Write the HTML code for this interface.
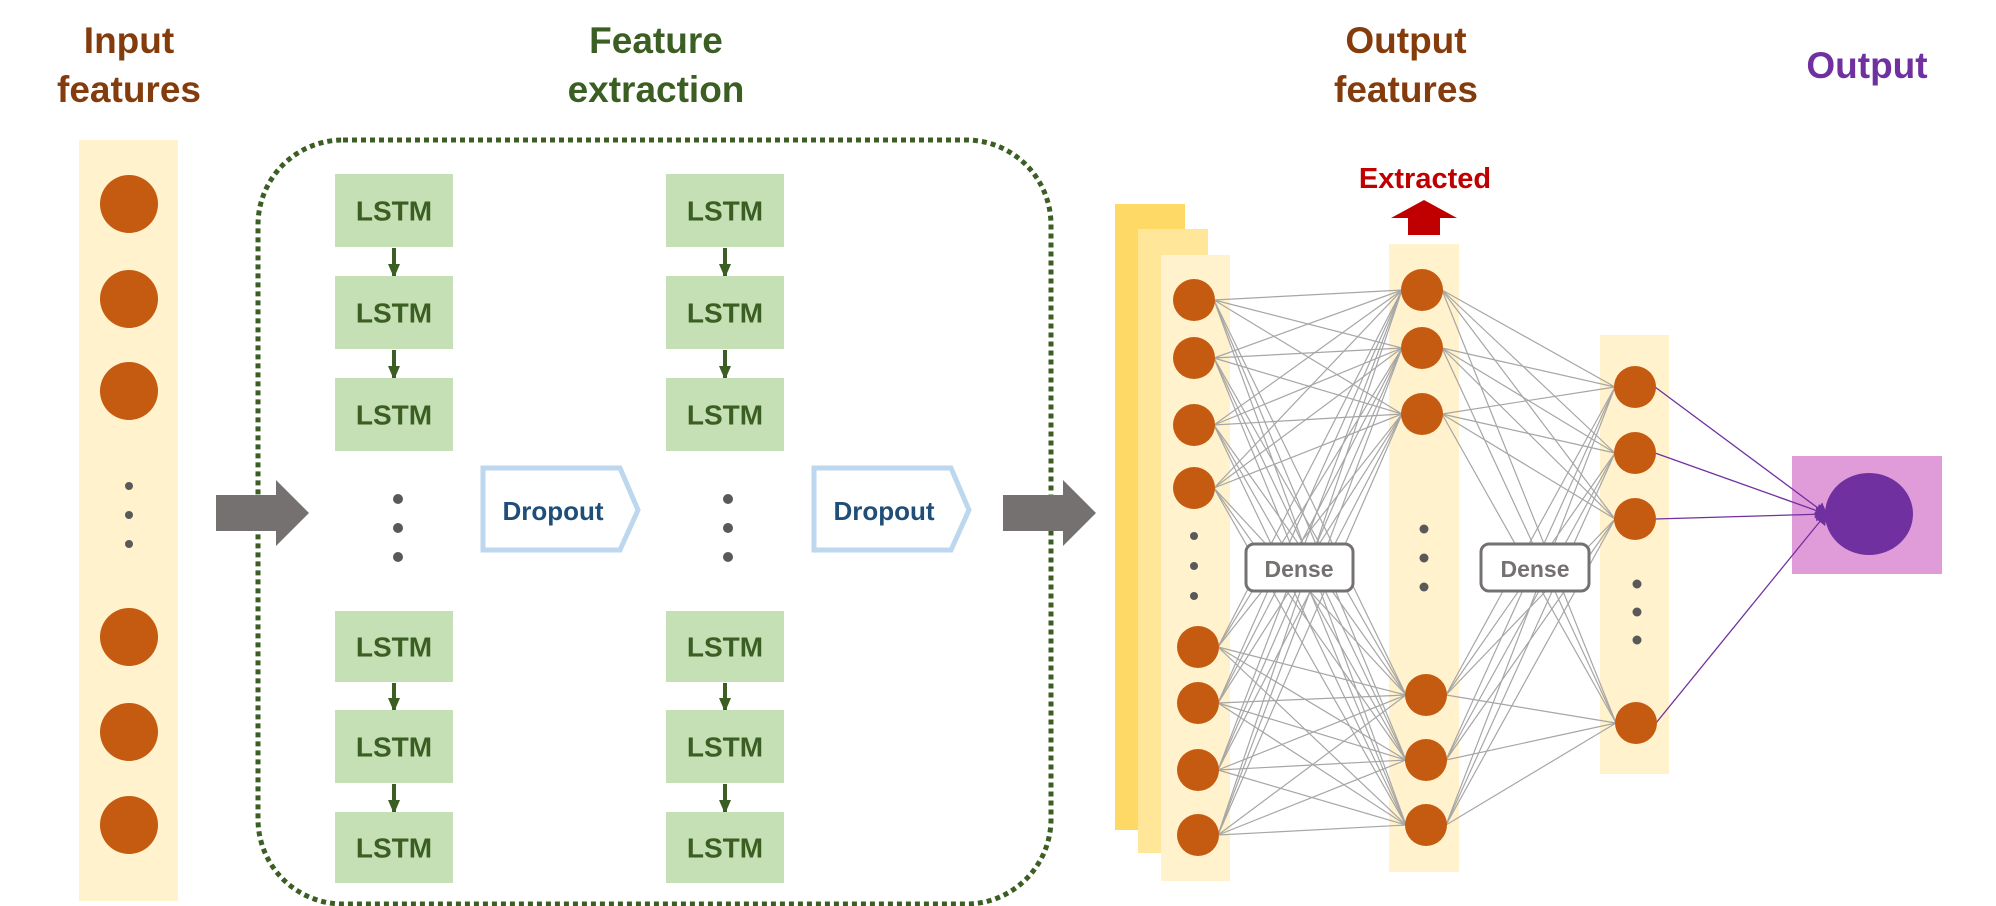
<!DOCTYPE html>
<html><head><meta charset="utf-8"><style>
html,body{margin:0;padding:0;background:#fff;}
svg{display:block;}
text{font-family:"Liberation Sans",sans-serif;font-weight:bold;}
</style></head><body>
<svg id="s" width="1996" height="906" viewBox="0 0 1996 906" xmlns="http://www.w3.org/2000/svg">
<defs>
<marker id="ga" markerWidth="14" markerHeight="12" refX="12" refY="6" orient="auto" markerUnits="userSpaceOnUse"><path d="M0,0 L14,6 L0,12 z" fill="#3B5E23"/></marker>
<marker id="pa" markerWidth="12" markerHeight="14" refX="10" refY="7" orient="auto" markerUnits="userSpaceOnUse"><path d="M0,0 L12,7 L0,14 z" fill="#7030A0"/></marker>
</defs>
<g font-size="37" text-anchor="middle">
<text x="129" y="53" fill="#843C0C">Input</text>
<text x="129" y="102" fill="#843C0C">features</text>
<text x="656" y="53" fill="#3B5E23">Feature</text>
<text x="656" y="102" fill="#3B5E23">extraction</text>
<text x="1406" y="53" fill="#843C0C">Output</text>
<text x="1406" y="102" fill="#843C0C">features</text>
<text x="1867" y="78" fill="#7030A0">Output</text>
</g>
<text x="1425" y="188" font-size="29" fill="#C00000" text-anchor="middle">Extracted</text>
<path d="M1424,200 L1457,218 L1440,218 L1440,235 L1408,235 L1408,218 L1391,218 z" fill="#C00000"/>

<rect x="79" y="140" width="99" height="761" fill="#FFF2CC"/>
<g fill="#C55A11">
<ellipse cx="129" cy="204" rx="29" ry="29"/><ellipse cx="129" cy="299" rx="29" ry="29"/><ellipse cx="129" cy="391" rx="29" ry="29"/>
<ellipse cx="129" cy="637" rx="29" ry="29"/><ellipse cx="129" cy="732" rx="29" ry="29"/><ellipse cx="129" cy="825" rx="29" ry="29"/>
</g>
<g fill="#595959"><circle cx="129" cy="486" r="4"/><circle cx="129" cy="515" r="4"/><circle cx="129" cy="544" r="4"/></g>

<rect x="258" y="140" width="793" height="764" rx="85" fill="none" stroke="#3B5E23" stroke-width="5" stroke-dasharray="5,4"/>

<path d="M216,495 L276,495 L276,480 L309,513 L276,546 L276,531 L216,531 z" fill="#767171"/>
<path d="M1003,495 L1063,495 L1063,480 L1096,513 L1063,546 L1063,531 L1003,531 z" fill="#767171"/>

<g id="lstm"></g>

<path d="M483,468 L620,468 L638,510 L620,550 L483,550 z" fill="#fff" stroke="#BDD7EE" stroke-width="5"/>
<text x="553" y="520" font-size="26" fill="#1F4E79" text-anchor="middle">Dropout</text>
<path d="M814,468 L951,468 L969,510 L951,550 L814,550 z" fill="#fff" stroke="#BDD7EE" stroke-width="5"/>
<text x="884" y="520" font-size="26" fill="#1F4E79" text-anchor="middle">Dropout</text>
<g fill="#595959">
<circle cx="398" cy="499" r="5"/><circle cx="398" cy="528" r="5"/><circle cx="398" cy="557" r="5"/>
<circle cx="728" cy="499" r="5"/><circle cx="728" cy="528" r="5"/><circle cx="728" cy="557" r="5"/>
</g>

<rect x="1115" y="204" width="70" height="626" fill="#FFD966"/>
<rect x="1138" y="229" width="70" height="624" fill="#FFE699"/>
<rect x="1161" y="255" width="69" height="626" fill="#FFF2CC"/>
<rect x="1389" y="244" width="70" height="628" fill="#FFF2CC"/>
<rect x="1600" y="335" width="69" height="439" fill="#FFF2CC"/>
<rect x="1792" y="456" width="150" height="118" fill="#E09CD8"/>
<g id="lines" stroke="#A6A6A6" stroke-width="1.2" fill="none"></g>
<g id="plines" stroke="#7030A0" stroke-width="1.3" fill="none"></g>
<ellipse cx="1869" cy="514" rx="44" ry="41" fill="#7030A0"/>
<g id="nodes" fill="#C55A11"></g>
<g fill="#595959">
<circle cx="1194" cy="536" r="4"/><circle cx="1194" cy="566" r="4"/><circle cx="1194" cy="596" r="4"/>
<circle cx="1424" cy="529" r="4.5"/><circle cx="1424" cy="558" r="4.5"/><circle cx="1424" cy="587" r="4.5"/>
<circle cx="1637" cy="584" r="4.5"/><circle cx="1637" cy="612" r="4.5"/><circle cx="1637" cy="640" r="4.5"/>
</g>
<rect x="1246" y="544" width="107" height="47" rx="8" fill="#fff" stroke="#767171" stroke-width="3"/>
<text x="1299" y="577" font-size="23" fill="#767171" text-anchor="middle">Dense</text>
<rect x="1481" y="544" width="108" height="47" rx="8" fill="#fff" stroke="#767171" stroke-width="3"/>
<text x="1535" y="577" font-size="23" fill="#767171" text-anchor="middle">Dense</text>
</svg>
<script>
var NS="http://www.w3.org/2000/svg";
function el(p,t,a){var e=document.createElementNS(NS,t);for(var k in a)e.setAttribute(k,a[k]);p.appendChild(e);return e;}
var L=document.getElementById('lstm');
var rows=[[174,247],[276,349],[378,451],[611,682],[710,783],[812,883]];
[[335,453],[666,784]].forEach(function(c){
 rows.forEach(function(r,i){
  el(L,'rect',{x:c[0],y:r[0],width:c[1]-c[0],height:r[1]-r[0],fill:'#C5E0B4'});
  var t=el(L,'text',{x:(c[0]+c[1])/2,y:(r[0]+r[1])/2+10,'font-size':28,fill:'#3B5E23','text-anchor':'middle'});t.textContent='LSTM';
  if(i!=2&&i<5){var x=(c[0]+c[1])/2;el(L,'line',{x1:x,y1:r[1]+1,x2:x,y2:rows[i+1][0],stroke:'#3B5E23','stroke-width':4,'marker-end':'url(#ga)'});}
 });
});
var c1=[[1194,300],[1194,358],[1194,425],[1194,488],[1198,647],[1198,703],[1198,770],[1198,835]];
var c2=[[1422,290],[1422,348],[1422,414],[1426,695],[1426,760],[1426,825]];
var c3=[[1635,387],[1635,453],[1635,519],[1636,723]];
var G=document.getElementById('lines'),P=document.getElementById('plines'),N=document.getElementById('nodes');
c1.forEach(function(a){c2.forEach(function(b){el(G,'line',{x1:a[0]+20,y1:a[1],x2:b[0]-20,y2:b[1]});});});
c2.forEach(function(a){c3.forEach(function(b){el(G,'line',{x1:a[0]+20,y1:a[1],x2:b[0]-20,y2:b[1]});});});
c3.forEach(function(a){el(P,'line',{x1:a[0]+20,y1:a[1],x2:1826,y2:514,'marker-end':'url(#pa)'});});
c1.concat(c2,c3).forEach(function(a){el(N,'ellipse',{cx:a[0],cy:a[1],rx:21,ry:21});});
</script>
</body></html>
